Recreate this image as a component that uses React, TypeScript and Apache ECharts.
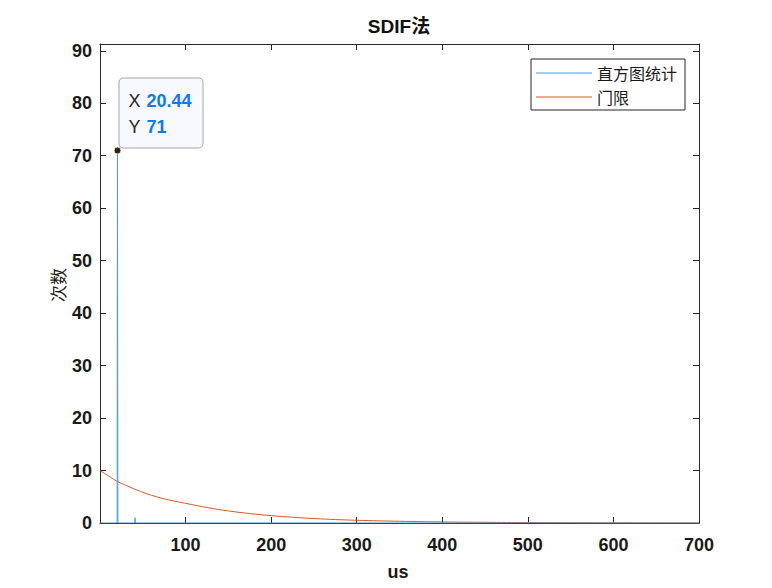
import React, { useEffect, useRef } from "react";
import * as echarts from "echarts";

const titleText = "SDIF法";
const xName = "us";
const yName = "次数";
const seriesNames = ["直方图统计", "门限"];

// histogram (counts per bin)
const histX = [0, 20.0, 20.44, 20.9, 40.6, 41.0, 41.4, 700];
const histY = [0, 0, 71, 0, 0, 1, 0, 0];

// threshold curve
const thrX = [0, 10, 20, 30, 40, 50, 60, 75, 100, 125, 150, 175, 200, 250, 300, 350, 400, 450, 500, 600, 700];
const thrY = [10, 8.95, 7.95, 7.2, 6.5, 5.85, 5.3, 4.6, 3.75, 2.95, 2.3, 1.8, 1.4, 0.85, 0.52, 0.33, 0.2, 0.13, 0.08, 0.03, 0.01];

const xMin = 0;
const xMax = 700;
const xStep = 100;
const yMin = 0;
const yMax = 91.3;
const yStep = 10;

const tipX = 20.44;
const tipY = 71;

export default function App() {
  const ref = useRef<HTMLDivElement>(null);
  useEffect(() => {
    if (!ref.current) return;
    const chart = echarts.init(ref.current, null, { renderer: "svg" });
    const axisColor = "#262626";
    const labelFont = {
      fontFamily: "Liberation Sans, Arial, sans-serif",
      fontWeight: "bold" as const,
      fontSize: 18,
      color: "#1a1a1a",
    };
    const histData = histX.map((x, i) => [x, histY[i]]);
    const thrData = thrX.map((x, i) => [x, thrY[i]]);
    const blue = "#4a9ddc";
    const orange = "#dc5620";
    chart.setOption({
      animation: false,
      backgroundColor: "#ffffff",
      grid: { left: 100, right: 73, top: 44, bottom: 65, containLabel: false },
      legend: {
        orient: "vertical",
        left: 531,
        top: 59,
        padding: [6, 8, 5, 5],
        backgroundColor: "#ffffff",
        borderColor: axisColor,
        borderWidth: 1,
        borderRadius: 0,
        itemWidth: 56,
        itemHeight: 1,
        itemGap: 8,
        icon: "rect",
        textStyle: {
          fontFamily: "Noto Sans CJK SC, sans-serif",
          fontSize: 16,
          lineHeight: 16,
          color: "#1a1a1a",
        },
        data: seriesNames,
      },
      xAxis: [
        {
          type: "value",
          min: xMin,
          max: xMax,
          interval: xStep,
          position: "bottom",
          splitLine: { show: false },
          axisLine: { show: true, onZero: false, lineStyle: { color: axisColor, width: 1 } },
          axisTick: { show: true, inside: true, length: 6, lineStyle: { color: axisColor } },
          axisLabel: {
            ...labelFont,
            margin: 13,
            formatter: (v: number) => (v === 0 ? "" : String(v)),
          },
        },
        {
          type: "value",
          min: xMin,
          max: xMax,
          interval: xStep,
          position: "top",
          splitLine: { show: false },
          axisLine: { show: true, onZero: false, lineStyle: { color: axisColor, width: 1 } },
          axisTick: { show: true, inside: true, length: 6, lineStyle: { color: axisColor } },
          axisLabel: { show: false },
        },
      ],
      yAxis: [
        {
          type: "value",
          min: yMin,
          max: yMax,
          interval: yStep,
          position: "left",
          splitLine: { show: false },
          axisLine: { show: true, onZero: false, lineStyle: { color: axisColor, width: 1 } },
          axisTick: { show: true, inside: true, length: 6, lineStyle: { color: axisColor } },
          axisLabel: {
            ...labelFont,
            margin: 8,
            formatter: (v: number) => (Math.abs(v % 10) < 1e-9 ? String(v) : ""),
          },
        },
        {
          type: "value",
          min: yMin,
          max: yMax,
          interval: yStep,
          position: "right",
          splitLine: { show: false },
          axisLine: { show: true, onZero: false, lineStyle: { color: axisColor, width: 1 } },
          axisTick: { show: true, inside: true, length: 6, lineStyle: { color: axisColor } },
          axisLabel: { show: false },
        },
      ],
      series: [
        {
          name: seriesNames[0],
          type: "line",
          data: histData,
          showSymbol: false,
          symbol: "none",
          color: blue,
          lineStyle: { color: blue, width: 1 },
          z: 3,
          markPoint: {
            symbol: "circle",
            symbolSize: 7,
            itemStyle: { color: "#262626", borderColor: "#f5f0b0", borderWidth: 1 },
            data: [
              {
                coord: [tipX, tipY],
                label: {
                  show: true,
                  position: [6, -68],
                  align: "left",
                  verticalAlign: "top",
                  backgroundColor: "#f8f8ff",
                  borderColor: "#a6a6a6",
                  borderWidth: 1,
                  borderRadius: 4,
                  padding: [9, 11, 8, 9],
                  lineHeight: 26,
                  formatter: "{k|X}{v|" + tipX + "}\n{k|Y}{v|" + tipY + "}",
                  rich: {
                    k: {
                      fontFamily: "Liberation Sans, Arial, sans-serif",
                      fontSize: 18,
                      color: "#262626",
                      lineHeight: 26,
                      width: 18,
                    },
                    v: {
                      fontFamily: "Liberation Sans, Arial, sans-serif",
                      fontSize: 18,
                      fontWeight: "bold",
                      color: "#0a7cf0",
                      lineHeight: 26,
                    },
                  },
                },
              },
            ],
          },
        },
        {
          name: seriesNames[1],
          type: "line",
          data: thrData,
          showSymbol: false,
          symbol: "none",
          smooth: 0.4,
          color: orange,
          lineStyle: { color: orange, width: 1 },
          z: 2,
        },
      ],
      graphic: [
        {
          type: "text",
          x: 399,
          y: 26,
          style: {
            text: titleText,
            fontFamily: "Liberation Sans, Noto Sans CJK SC, sans-serif",
            fontWeight: "bold",
            fontSize: 19,
            fill: "#111",
            align: "center",
            verticalAlign: "middle",
          },
        },
        {
          type: "text",
          x: 398,
          y: 572,
          style: {
            text: xName,
            fontFamily: "Liberation Sans, Arial, sans-serif",
            fontWeight: "bold",
            fontSize: 18,
            fill: "#1a1a1a",
            align: "center",
            verticalAlign: "middle",
          },
        },
        {
          type: "text",
          x: 57,
          y: 285,
          rotation: Math.PI / 2,
          style: {
            text: yName,
            fontFamily: "Noto Sans CJK SC, sans-serif",
            fontSize: 17,
            fill: "#1a1a1a",
            align: "center",
            verticalAlign: "middle",
          },
        },
      ],
    });
    return () => chart.dispose();
  }, []);
  return (
    <div
      ref={ref}
      style={{ position: "fixed", left: 0, top: 0, width: 772, height: 588, background: "#fff" }}
    />
  );
}
